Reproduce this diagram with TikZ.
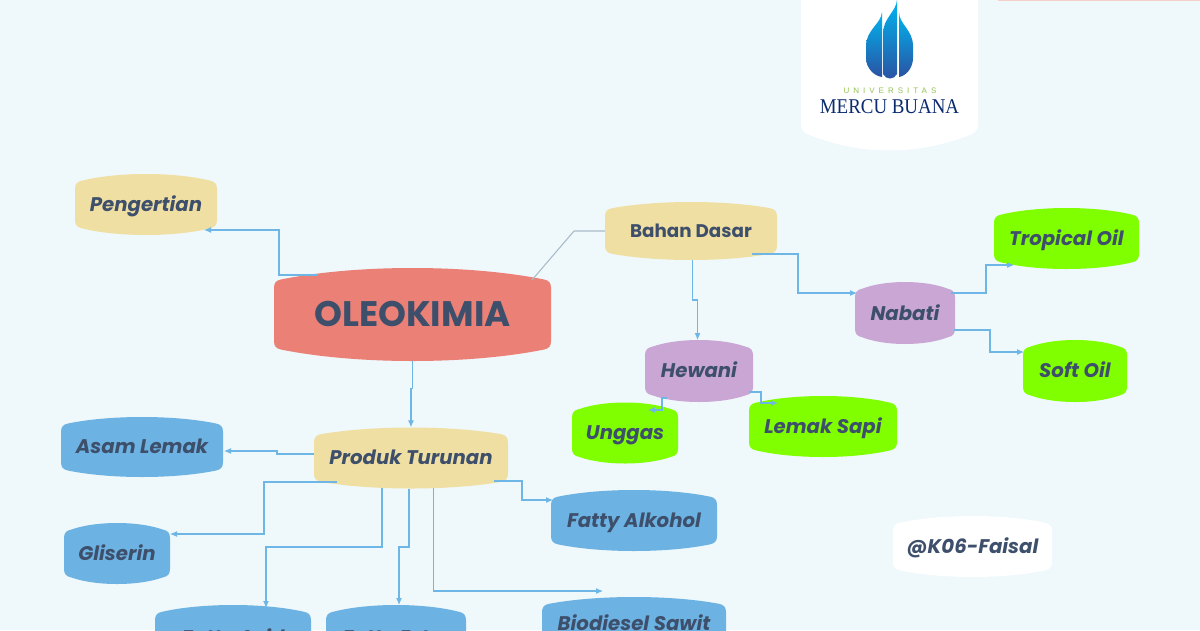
\documentclass[tikz,border=0pt]{standalone}
\usepackage{fontspec}
\setmainfont{Poppins}
\newfontfamily\logofont{Liberation Serif}
\newfontfamily\unifont[LetterSpace=50]{Liberation Sans}
\usetikzlibrary{arrows.meta}
\definecolor{bgcol}{HTML}{EFF8FB}
\definecolor{yellowcol}{HTML}{F0DFA2}
\definecolor{redcol}{HTML}{EB8076}
\definecolor{bluecol}{HTML}{6CB2E2}
\definecolor{purplecol}{HTML}{C9A6D3}
\definecolor{greencol}{HTML}{80FF00}
\definecolor{inkcol}{HTML}{3D4F6B}
\definecolor{linkcol}{HTML}{6DB6E6}
\definecolor{greycol}{HTML}{A9BCC9}
\definecolor{pinkcol}{HTML}{F7CFC9}
\definecolor{flametop}{HTML}{00B4EF}
\definecolor{flamemid}{HTML}{0A7FC6}
\definecolor{flamelow}{HTML}{2A53A3}
\definecolor{unicol}{HTML}{93C352}
\definecolor{mercucol}{HTML}{0B2A6F}
\tikzset{
	link/.style={draw=linkcol, line width=1.1pt, -{Latex[length=7pt,width=6pt]}},
	label/.style={font=\fontsize{19.7}{20}\selectfont\bfseries\itshape, text=inkcol, text height=15pt, text depth=2pt},
	flame/.style={top color=flametop, middle color=flamemid, bottom color=flamelow},
}
% fill, name, x, y, w, h, text
\newcommand{\blobnode}[7]{
	\pgfmathsetmacro\bl{#3-#5/2}
	\pgfmathsetmacro\br{#3+#5/2}
	\pgfmathsetmacro\bt{#4-#6/2}
	\pgfmathsetmacro\bb{#4+#6/2}
	\pgfmathsetmacro\bs{0.15*#6}
	\pgfmathsetmacro\bc{(#6*0.15-2.5)/3}
	\pgfmathsetmacro\bw{0.3*#5}
	\fill[#1] (\bl,\bt+\bs+6) .. controls (\bl,\bt+\bs+1) and (\bl+2,\bt+\bs-1.5) .. (\bl+7,\bt+\bs-2.5)
		.. controls (\bl+\bw,\bt-\bc) and (\br-\bw,\bt-\bc) .. (\br-7,\bt+\bs-2.5)
		.. controls (\br-2,\bt+\bs-1.5) and (\br,\bt+\bs+1) .. (\br,\bt+\bs+6)
		-- (\br,\bb-\bs-6) .. controls (\br,\bb-\bs-1) and (\br-2,\bb-\bs+1.5) .. (\br-7,\bb-\bs+2.5)
		.. controls (\br-\bw,\bb+\bc) and (\bl+\bw,\bb+\bc) .. (\bl+7,\bb-\bs+2.5)
		.. controls (\bl+2,\bb-\bs+1.5) and (\bl,\bb-\bs-1) .. (\bl,\bb-\bs-6) -- cycle;
	\node[label, inner sep=0pt, minimum width=#5pt, minimum height=#6pt] (#2) at (#3,#4) {#7};
}
\begin{document}
\begin{tikzpicture}[x=1pt,y=-1pt]
	\fill[bgcol] (0,0) rectangle (1200,630);
	\useasboundingbox (0,0) rectangle (1200,630);
	\fill[pinkcol] (998,0) rectangle (1200,1);

	% logo
	\fill[white] (801,0) -- (801,124) .. controls (801,129) and (803,132) .. (807,134)
		.. controls (860,156) and (919,156) .. (972,134) .. controls (976,132) and (978,129) .. (978,124) -- (978,0) -- cycle;
	\shade[flame] (882,12) .. controls (881,24) and (866,30) .. (866,46) -- (866,58) .. controls (866,68) and (874,76) .. (882,77) -- cycle;
	\shade[flame] (897,0) .. controls (896,12) and (883,18) .. (883,34) -- (883,74) .. controls (886,80) and (894,80) .. (897,74) -- cycle;
	\shade[flame] (899,12) .. controls (899,24) and (913,30) .. (913,46) -- (913,58) .. controls (913,68) and (906,76) .. (899,77) -- cycle;
	\node[text=unicol, font=\unifont\fontsize{8}{8}\selectfont] (uni) at (890,91) {UNIVERSITAS};
	\node[text=mercucol, xscale=0.9, font=\logofont\fontsize{21}{21}\selectfont] (mercu) at (889.5,107) {MERCU BUANA};

	\blobnode{yellowcol}{peng}{146}{204.5}{142}{61}{Pengertian}
	\blobnode{redcol}{oleo}{412.5}{314.5}{277}{93}{\raisebox{-5pt}{\fontsize{35.5}{36}\selectfont\upshape OLEOKIMIA}}
	\blobnode{yellowcol}{bahan}{691}{231}{172}{58}{\fontsize{18.3}{19}\selectfont\upshape Bahan Dasar}
	\blobnode{yellowcol}{produk}{411}{458}{194}{61}{Produk Turunan}
	\blobnode{purplecol}{hewani}{699}{371}{108}{62}{Hewani}
	\blobnode{purplecol}{nabati}{905}{313}{100}{62}{\raisebox{-1pt}{Nabati}}
	\blobnode{greencol}{unggas}{625}{433}{106}{61}{Unggas}
	\blobnode{greencol}{lemak}{823}{426.5}{148}{61}{Lemak Sapi}
	\blobnode{greencol}{tropical}{1066.5}{238.5}{145}{61}{Tropical Oil}
	\blobnode{greencol}{soft}{1075}{371}{104}{62}{Soft Oil}
	\blobnode{bluecol}{asam}{142}{447}{162}{60}{Asam Lemak}
	\blobnode{bluecol}{gliserin}{117}{553.5}{106}{61}{Gliserin}
	\blobnode{bluecol}{alkohol}{634}{520.5}{166}{61}{Fatty Alkohol}
	\blobnode{bluecol}{biodiesel}{634}{628}{184}{62}{\raisebox{4pt}{Biodiesel Sawit}}
	\blobnode{bluecol}{acid}{233}{636}{156}{62}{\raisebox{-2pt}{Fatty Acid}}
	\blobnode{bluecol}{ester}{396}{636}{140}{62}{\raisebox{-2pt}{Fatty Ester}}
	\blobnode{white}{faisal}{972.5}{546.5}{159}{61}{@K06-Faisal}

	\draw[link] ([shift={(-94.5,-39.5)}]oleo.center) -- ++(-39,0) |- ([shift={(58,25.5)}]peng.center);
	\draw[draw=greycol, line width=1.1pt] ([shift={(119.5,-34.5)}]oleo.center) -- ++(42,-49) -- (bahan.west);
	\draw[link] (oleo.south) -- ++(0,27) -| (produk.north);
	\draw[link] ([shift={(1.5,29)}]bahan.center) -- ++(0,40) -| ([shift={(-1.5,-31)}]hewani.center);
	\draw[link] ([shift={(61,23)}]bahan.center) -- ++(46,0) |- ([shift={(-48,-20)}]nabati.center);
	\draw[link] ([shift={(46,-20)}]nabati.center) -- ++(35,0) |- ([shift={(-52.5,26.5)}]tropical.center);
	\draw[link] ([shift={(49,17)}]nabati.center) -- ++(36,0) |- ([shift={(-51,-19)}]soft.center);
	\draw[link] ([shift={(-32,27)}]hewani.center) -- ++(-5,0) |- ([shift={(23,-23)}]unggas.center);
	\draw[link] ([shift={(50,21)}]hewani.center) -- ++(12,0) |- ([shift={(-45,-23.5)}]lemak.center);
	\draw[link] ([shift={(-97,-4)}]produk.center) -- ++(-37,0) |- ([shift={(82,4)}]asam.center);
	\draw[link] ([shift={(-74,24)}]produk.center) -- ++(-73,0) |- ([shift={(53,-19.5)}]gliserin.center);
	\draw[link] ([shift={(-29,30)}]produk.center) -- ++(0,59) -| ([shift={(33,-28)}]acid.center);
	\draw[link] ([shift={(-2,31)}]produk.center) -- ++(0,58) -| ([shift={(3,-31)}]ester.center);
	\draw[link] ([shift={(22.5,30)}]produk.center) |- ([shift={(-31,-37)}]biodiesel.center);
	\draw[link] ([shift={(83,23)}]produk.center) -- ++(28,0) |- ([shift={(-81,-20.5)}]alkohol.center);
\end{tikzpicture}
\end{document}
